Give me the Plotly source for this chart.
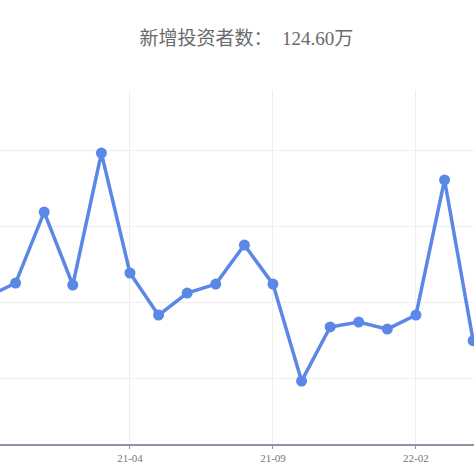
import plotly.graph_objects as go

months = ["20-11", "20-12", "21-01", "21-02", "21-03", "21-04", "21-05", "21-06",
          "21-07", "21-08", "21-09", "21-10", "21-11", "21-12", "22-01", "22-02",
          "22-03", "22-04"]
new_investors = [153.3, 162.5, 209.2, 161.2, 248.0, 169.1, 141.4, 155.9,
                 161.8, 187.5, 161.8, 98.0, 133.6, 136.8, 132.2, 141.4,
                 230.3, 124.6]
tick_months = ["21-04", "21-09", "22-02"]
grid_values = [100, 150, 200, 250]

line_color = "#5b87e6"

fig = go.Figure()
fig.add_trace(go.Scatter(
    x=months, y=new_investors, mode="lines+markers",
    line=dict(color=line_color, width=3.5),
    marker=dict(color=line_color, size=11),
))

fig.update_layout(
    width=474, height=474,
    margin=dict(l=0, r=0, t=90, b=30),
    plot_bgcolor="white", paper_bgcolor="white",
    showlegend=False,
    title=dict(text="新增投资者数：  124.60万", x=0.52, xanchor="center",
               y=1 - 38 / 474, yanchor="middle",
               font=dict(family="Liberation Serif, Noto Sans CJK SC", size=19, color="#6a6a6a")),
)
fig.update_xaxes(
    type="category", range=[0.455, 17.03],
    tickvals=tick_months, ticktext=tick_months,
    showgrid=True, gridcolor="#eeeeee", gridwidth=1,
    showline=True, linecolor="#8a96a8", linewidth=1.5,
    ticks="outside", ticklen=3, tickcolor="#8a96a8",
    tickfont=dict(family="Liberation Serif", size=11, color="#777777"),
)
fig.update_yaxes(
    range=[56.6, 289.5], tickvals=grid_values, showticklabels=False,
    showgrid=True, gridcolor="#eeeeee", gridwidth=1,
    zeroline=False, showline=False,
)

# drop the browser's default page margin so the figure sits at 0,0
fig.write_html("out.html", config={"displayModeBar": False},
               post_script="document.body.style.margin='0';")
